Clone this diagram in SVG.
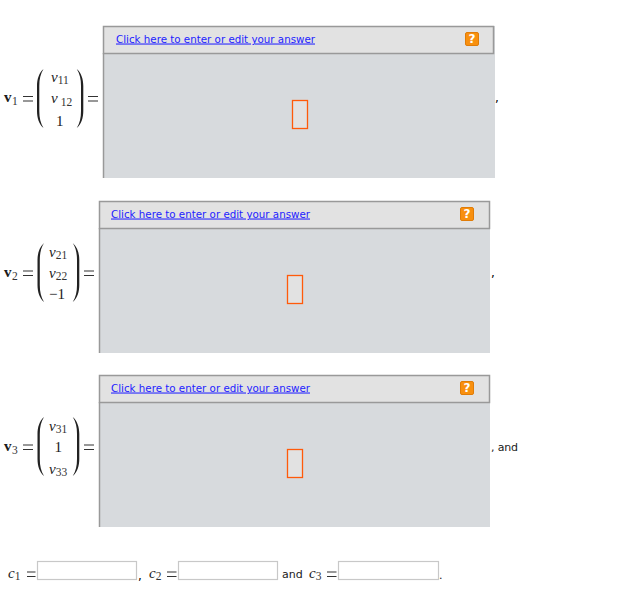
<svg xmlns="http://www.w3.org/2000/svg" width="622" height="596" viewBox="0 0 622 596">
<style>
text{fill:#1a1a1a}
.s{font-family:"Liberation Serif",serif;font-size:15px}
.i{font-style:italic}
.sub{font-size:11.5px;fill:#333;font-style:normal;font-weight:normal}
.b{font-weight:bold}
.v{font-family:"DejaVu Sans",sans-serif;font-size:11px}
.c{font-family:"DejaVu Sans",sans-serif;font-size:12px;fill:#000}
.link{font-family:"DejaVu Sans",sans-serif;font-size:10.5px;fill:#2222ff;text-decoration:underline}
.q{font-family:"DejaVu Sans",sans-serif;font-size:12px;font-weight:bold;fill:#fff;text-anchor:middle}
.panel{fill:#d7dadd}
.head{fill:#e2e2e2;stroke:#999;stroke-width:1.5}
.edge{stroke:#999;stroke-width:1.5;fill:none}
.ph{fill:#e2e2e2;stroke:#ff5a0a;stroke-width:1.3}
.help{fill:#f8900f;stroke:#e07c08;stroke-width:1}
.field{fill:#fff;stroke:#c8c8c8;stroke-width:1.2}
.par{fill:#222}
.eq{stroke:#333;stroke-width:1.1;fill:none}
</style>
<defs>
<path id="lp" class="par" d="M43.500 0C39 4 37 10 37 17V42C37 49 39 55 43.500 59C40.500 54 39.300 49 39.300 42V17C39.300 10 40.500 5 43.500 0Z"/>
<g id="inner">
<text class="link" x="13" y="16.500" textLength="199" lengthAdjust="spacingAndGlyphs">Click here to enter or edit your answer</text>
<rect class="help" x="362.500" y="6.500" width="13" height="13" rx="1.500"/>
<text class="q" x="369" y="17">?</text>
<rect class="ph" x="189.500" y="74.500" width="15" height="28"/>
</g>
</defs>
<g id="connectors"></g>

<g id="node-v1">
<rect class="panel" x="103" y="26" width="392" height="152"/>
<path class="edge" d="M103.500 53V178"/>
<rect class="head" x="103.500" y="26.500" width="390" height="27"/>
<use href="#inner" x="103" y="26"/>
<text class="s b" x="4" y="102">v<tspan class="sub" dy="3" dx="0.500">1</tspan></text>
<path class="eq" d="M23 96.500H33M23 101H33M88 96.500H98M88 101H98"/>
<use href="#lp" y="69"/>
<use href="#lp" transform="translate(120.300 69) scale(-1 1)"/>
<text class="s i" x="51" y="81.500">v<tspan class="sub" dy="2">11</tspan></text>
<text class="s i" x="51" y="102.500">v<tspan class="sub" dy="3" dx="3">12</tspan></text>
<text class="s" x="56" y="125.500">1</text>
<text class="c" x="495" y="102">,</text>
</g>

<g id="node-v2">
<rect class="panel" x="99" y="201" width="391" height="152"/>
<path class="edge" d="M99.500 228V353"/>
<rect class="head" x="99.500" y="201.500" width="390" height="27"/>
<use href="#inner" x="98" y="201"/>
<text class="s b" x="4" y="277">v<tspan class="sub" dy="3" dx="0.500">2</tspan></text>
<path class="eq" d="M23 271H33M23 275.500H33M84 271H94M84 275.500H94"/>
<use href="#lp" x="0.500" y="243"/>
<use href="#lp" transform="translate(116.300 243) scale(-1 1)"/>
<text class="s i" x="49" y="256.500">v<tspan class="sub" dy="2">21</tspan></text>
<text class="s i" x="49" y="277.500">v<tspan class="sub" dy="2">22</tspan></text>
<text class="s" x="49" y="299">−1</text>
<text class="c" x="491" y="277">,</text>
</g>

<g id="node-v3">
<rect class="panel" x="99" y="375" width="391" height="152"/>
<path class="edge" d="M99.500 402V527"/>
<rect class="head" x="99.500" y="375.500" width="390" height="27"/>
<use href="#inner" x="98" y="375"/>
<text class="s b" x="4" y="451">v<tspan class="sub" dy="3" dx="0.500">3</tspan></text>
<path class="eq" d="M23 445H33M23 449.500H33M84 445H94M84 449.500H94"/>
<use href="#lp" x="0.500" y="417"/>
<use href="#lp" transform="translate(116.300 417) scale(-1 1)"/>
<text class="s i" x="49" y="431">v<tspan class="sub" dy="2">31</tspan></text>
<text class="s" x="54.500" y="451.500">1</text>
<text class="s i" x="49" y="474">v<tspan class="sub" dy="2">33</tspan></text>
<text class="v" x="491" y="451" textLength="27">, and</text>
</g>

<g id="node-coefficients">
<text class="s i" x="8" y="578">c<tspan class="sub" dy="2">1</tspan></text>
<path class="eq" d="M27 572H35.500M27 576.500H35.500"/>
<rect class="field" x="37.500" y="561.500" width="99" height="18"/>
<text class="c" x="138" y="580">,</text>
<text class="s i" x="149" y="578">c<tspan class="sub" dy="2">2</tspan></text>
<path class="eq" d="M167 572H176.500M167 576.500H176.500"/>
<rect class="field" x="178.500" y="561.500" width="99" height="18"/>
<text class="v" x="282" y="578">and</text>
<text class="s i" x="309" y="578">c<tspan class="sub" dy="2">3</tspan></text>
<path class="eq" d="M327 572H336.500M327 576.500H336.500"/>
<rect class="field" x="338.500" y="561.500" width="100" height="18"/>
<text class="v" x="439" y="579">.</text>
</g>
</svg>
